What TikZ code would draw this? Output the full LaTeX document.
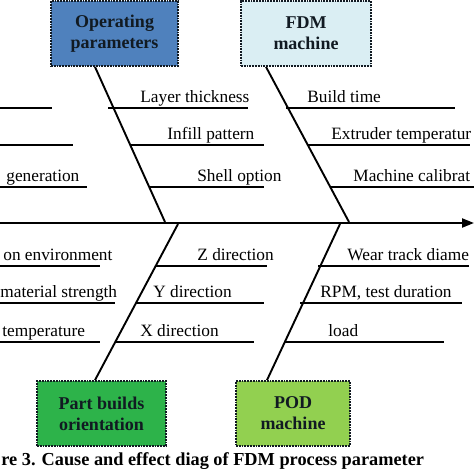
\documentclass[tikz,border=0pt]{standalone}
\usepackage{fontspec}
\setmainfont{Liberation Serif}
\usetikzlibrary{arrows.meta}

\definecolor{opblue}{HTML}{4F81BD}
\definecolor{fdmblue}{HTML}{DAEEF3}
\definecolor{pbgreen}{HTML}{2DB34A}
\definecolor{podgreen}{HTML}{92D050}
\definecolor{inkdark}{HTML}{111A22}

\tikzset{every picture/.style={line width=0.75pt}}
\tikzset{
  causebox/.style={draw=inkdark, densely dotted, line width=1.8pt, minimum height=65pt,
    align=center, text=inkdark, inner sep=0pt, font=\bfseries\fontsize{18}{21}\selectfont},
  bone/.style={line width=1.9pt},
  rib/.style={line width=1.8pt},
  ribtext/.style={anchor=base west, inner sep=0pt, font=\fontsize{17.3}{20}\selectfont},
}

\begin{document}
\begin{tikzpicture}[
            x=1pt,
            y=1pt,
            yscale=-1,
            xscale=1,
            every node/.style={text=black},
            line width=0.75pt
        ]
            \useasboundingbox (0,0) rectangle (474,474);
            \clip (0,0) rectangle (474,474);
            % cause boxes
            \node[causebox, fill=opblue, minimum width=127pt] (op) at (114.5,33.5) {Operating\\parameters};
            \node[causebox, fill=fdmblue, minimum width=130pt] (fdm) at (306,33.5) {FDM\\machine};
            \node[causebox, fill=pbgreen, minimum width=129pt] (pb) at (101.5,413.5) {Part builds\\orientation};
            \node[causebox, fill=podgreen, minimum width=114pt] (pod) at (293,413.5) {POD\\machine};
            % spine
            \coordinate (tail) at (0,223);
            \coordinate (head) at (474,223);
            \draw [line width=2.2pt, -{Triangle[length=12pt,width=9pt]}] (tail) -- (head);
            % main bones
            \coordinate (ophead) at (165,222);
            \coordinate (fdmhead) at (349,222);
            \coordinate (pbhead) at (178,224);
            \coordinate (podhead) at (340,224);
            \draw [bone] ([xshift=-19.5pt]op.south) -- (ophead);
            \draw [bone] ([xshift=-40pt]fdm.south) -- (fdmhead);
            \draw [bone] ([xshift=-6.5pt]pb.north) -- (pbhead);
            \draw [bone] ([xshift=-26pt]pod.north) -- (podhead);
            % left ribs, cut off
            \draw [rib] (0,108) -- (52,108);
            \draw [rib] (0,145) -- (73,145);
            \draw [rib] (0,187) -- (87,187);
            \node[ribtext] (gen) at (6,181) {generation};
            \draw [rib] (0,266) -- (100,266);
            \node[ribtext] (env) at (3,260) {on environment};
            \draw [rib] (0,303) -- (115,303);
            \node[ribtext] (mat) at (0,297) {material strength};
            \draw [rib] (0,342) -- (100,342);
            \node[ribtext] (temp) at (2,336) {temperature};
            % operating parameters ribs
            \draw [rib] (108,108) -- (248,108);
            \node[ribtext] (layer) at (140,102) {Layer thickness};
            \draw [rib] (130,145) -- (264,145);
            \node[ribtext] (infill) at (167,139) {Infill pattern};
            \draw [rib] (150,187) -- (264,187);
            \node[ribtext] (shell) at (197,181) {Shell option};
            % FDM machine ribs
            \draw [rib] (286,108) -- (455,108);
            \node[ribtext] (build) at (307,102) {Build time};
            \draw [rib] (308,145) -- (470,145);
            \node[ribtext] (extr) at (331,139) {Extruder temperatur};
            \draw [rib] (330,187) -- (474,187);
            \node[ribtext] (calib) at (353,181) {Machine calibrat};
            % part builds orientation ribs
            \draw [rib] (155,266) -- (267,266);
            \node[ribtext] (zdir) at (197,260) {Z direction};
            \draw [rib] (136,303) -- (264,303);
            \node[ribtext] (ydir) at (153,297) {Y direction};
            \draw [rib] (115,342) -- (254,342);
            \node[ribtext] (xdir) at (140,336) {X direction};
            % POD machine ribs
            \draw [rib] (318,266) -- (469,266);
            \node[ribtext] (wear) at (347,260) {Wear track diame};
            \draw [rib] (300,303) -- (462,303);
            \node[ribtext] (rpm) at (320,297) {RPM, test duration};
            \draw [rib] (285,342) -- (444,342);
            \node[ribtext] (load) at (328,336) {load};
            % caption
            \node[anchor=base west, inner sep=0pt, font=\bfseries\fontsize{18.3}{21}\selectfont] (cap) at (1,465) {re 3. Cause and effect diag of FDM process parameter};
        \end{tikzpicture}
\end{document}
